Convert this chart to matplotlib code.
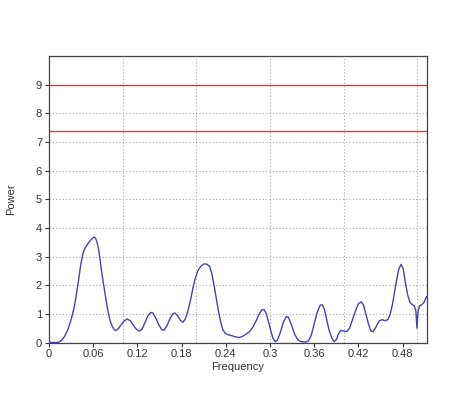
import matplotlib
matplotlib.use("Agg")
import matplotlib.pyplot as plt

# Periodogram
freq = [0.000, 0.010, 0.014, 0.018, 0.022, 0.026, 0.030, 0.034, 0.037, 0.040,
        0.043, 0.046, 0.049, 0.052, 0.055, 0.058, 0.061, 0.063, 0.065, 0.067,
        0.069, 0.071, 0.074, 0.077, 0.080, 0.083, 0.086, 0.089, 0.091, 0.094,
        0.098, 0.102, 0.106, 0.110, 0.114, 0.118, 0.122, 0.126, 0.130, 0.134,
        0.138, 0.141, 0.145, 0.149, 0.153, 0.156, 0.160, 0.164, 0.168, 0.171,
        0.175, 0.179, 0.182, 0.185, 0.188, 0.191, 0.195, 0.198, 0.202, 0.206,
        0.210, 0.214, 0.218, 0.221, 0.224, 0.227, 0.230, 0.233, 0.236, 0.239,
        0.243, 0.248, 0.253, 0.258, 0.263, 0.268, 0.273, 0.277, 0.281, 0.285,
        0.289, 0.292, 0.295, 0.298, 0.301, 0.304, 0.307, 0.310, 0.314, 0.318,
        0.322, 0.325, 0.329, 0.333, 0.337, 0.341, 0.345, 0.349, 0.352, 0.356,
        0.360, 0.364, 0.368, 0.371, 0.374, 0.377, 0.380, 0.384, 0.387, 0.390,
        0.393, 0.396, 0.400, 0.404, 0.408, 0.412, 0.416, 0.420, 0.424, 0.427,
        0.430, 0.434, 0.437, 0.440, 0.444, 0.448, 0.452, 0.456, 0.460, 0.463,
        0.466, 0.469, 0.472, 0.475, 0.478, 0.481, 0.484, 0.487, 0.490, 0.493,
        0.496, 0.498, 0.4995, 0.501, 0.503, 0.506, 0.509, 0.5125]
power = [0.00, 0.00, 0.02, 0.10, 0.25, 0.48, 0.80, 1.20, 1.65, 2.15,
         2.70, 3.10, 3.30, 3.42, 3.52, 3.62, 3.68, 3.65, 3.52, 3.30,
         2.95, 2.55, 2.05, 1.55, 1.10, 0.75, 0.55, 0.44, 0.42, 0.48,
         0.62, 0.75, 0.82, 0.77, 0.62, 0.48, 0.40, 0.45, 0.68, 0.92,
         1.05, 1.03, 0.85, 0.62, 0.45, 0.43, 0.58, 0.82, 1.00, 1.03,
         0.92, 0.76, 0.71, 0.82, 1.05, 1.35, 1.85, 2.20, 2.50, 2.66,
         2.74, 2.74, 2.66, 2.40, 2.00, 1.55, 1.10, 0.72, 0.45, 0.33,
         0.27, 0.24, 0.20, 0.17, 0.22, 0.30, 0.40, 0.55, 0.75, 0.98,
         1.14, 1.15, 1.00, 0.72, 0.42, 0.15, 0.03, 0.08, 0.35, 0.70,
         0.90, 0.88, 0.62, 0.32, 0.12, 0.04, 0.02, 0.02, 0.05, 0.25,
         0.65, 1.05, 1.30, 1.32, 1.15, 0.80, 0.45, 0.15, 0.03, 0.10,
         0.30, 0.42, 0.40, 0.38, 0.50, 0.80, 1.10, 1.35, 1.42, 1.30,
         1.00, 0.62, 0.40, 0.38, 0.55, 0.75, 0.80, 0.76, 0.80, 0.98,
         1.30, 1.75, 2.20, 2.58, 2.73, 2.55, 2.05, 1.65, 1.40, 1.32,
         1.28, 1.10, 0.50, 1.10, 1.28, 1.32, 1.40, 1.60]

# significance levels (red lines)
sig_levels = [9.0, 7.37]

xticks = [0, 0.06, 0.12, 0.18, 0.24, 0.3, 0.36, 0.42, 0.48]
xtick_labels = ["0", "0.06", "0.12", "0.18", "0.24", "0.3", "0.36", "0.42", "0.48"]
xgrid = [0.1, 0.2, 0.3, 0.4, 0.5]
yticks = [0, 1, 2, 3, 4, 5, 6, 7, 8, 9]

plt.rcParams['font.family'] = ['Liberation Sans', 'DejaVu Sans']

fig = plt.figure(figsize=(4.74, 3.98), dpi=100)
ax = fig.add_axes([0.1034, 0.1394, 0.7968, 0.7199])

# dotted grid (the 9 line is covered by the red level line)
for g in xgrid:
    ax.axvline(g, color="#a8a8a8", linestyle=(0, (1, 2)), linewidth=0.8, zorder=1)
for g in yticks[1:-1]:
    ax.axhline(g, color="#a8a8a8", linestyle=(0, (1, 2)), linewidth=0.8, zorder=1)

for lev in sig_levels:
    ax.axhline(lev, color="#ff2a2a", linewidth=1.0, zorder=2)

ax.plot(freq, power, color="#4444aa", linewidth=1.0, zorder=3)

ax.set_xlim(0, 0.5127)
ax.set_ylim(0, 10)
ax.set_xticks(xticks)
ax.set_xticklabels(xtick_labels)
ax.set_yticks(yticks)
ax.tick_params(direction="out", length=3, width=0.8, labelsize=8, colors="#333333", pad=2)
for s in ax.spines.values():
    s.set_color("#444444")
    s.set_linewidth(0.9)

ax.set_xlabel("Frequency", fontsize=8, color="#333333", labelpad=2)
ax.set_ylabel("Power", fontsize=8, color="#333333", labelpad=14)

fig.savefig("out.png", dpi=100)
